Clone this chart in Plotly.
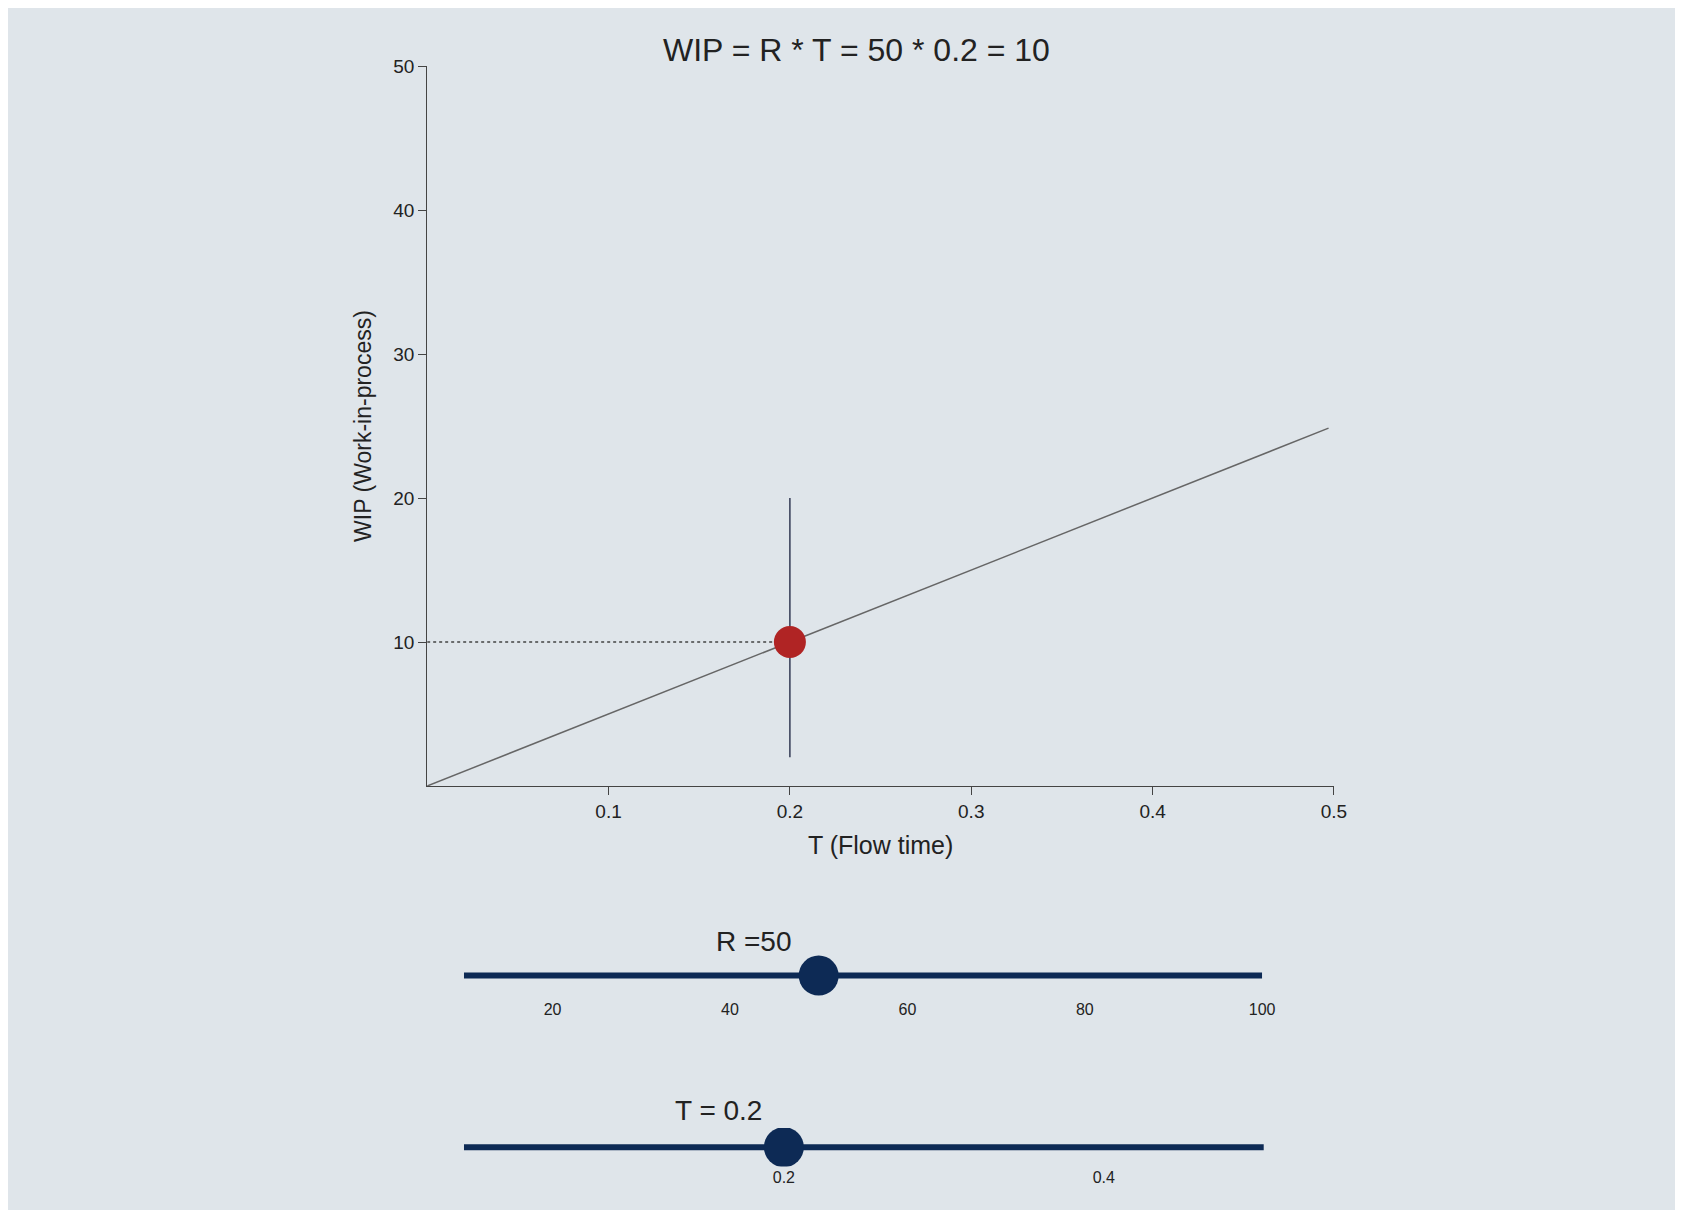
import plotly.graph_objects as go

R = 50
T = 0.2
WIP = R * T
line_T = [0, 0.497]
x_ticks = [0.1, 0.2, 0.3, 0.4, 0.5]
y_ticks = [10, 20, 30, 40, 50]
r_range = [10, 100]
r_ticks = [20, 40, 60, 80, 100]
t_range = [0, 0.5]
t_ticks = [0.2, 0.4]

bg = "#dfe5ea"
navy = "#0d2a55"
fig = go.Figure()
fig.add_trace(go.Scatter(x=line_T, y=[R * t for t in line_T], mode="lines",
                         line=dict(color="#666", width=1.5), xaxis="x", yaxis="y"))
fig.add_trace(go.Scatter(x=[T, T], y=[2, 20], mode="lines",
                         line=dict(color="#333a55", width=1.5), xaxis="x", yaxis="y"))
fig.add_trace(go.Scatter(x=[0, T], y=[WIP, WIP], mode="lines",
                         line=dict(color="#444", width=1.5, dash="dot"), xaxis="x", yaxis="y"))
fig.add_trace(go.Scatter(x=[T], y=[WIP], mode="markers",
                         marker=dict(color="#b02424", size=32), xaxis="x", yaxis="y"))
fig.add_trace(go.Scatter(x=r_range, y=[0, 0], mode="lines", line=dict(color=navy, width=6),
                         xaxis="x2", yaxis="y2"))
fig.add_trace(go.Scatter(x=[R], y=[0], mode="markers", marker=dict(color=navy, size=40),
                         xaxis="x2", yaxis="y2"))
fig.add_trace(go.Scatter(x=t_range, y=[0, 0], mode="lines", line=dict(color=navy, width=6),
                         xaxis="x3", yaxis="y3"))
fig.add_trace(go.Scatter(x=[T], y=[0], mode="markers", marker=dict(color=navy, size=40),
                         xaxis="x3", yaxis="y3"))

font = dict(family="Liberation Sans, Arial", color="#222")
fig.update_layout(
    width=1683, height=1210, showlegend=False, paper_bgcolor=bg, plot_bgcolor=bg,
    margin=dict(l=0, r=0, t=0, b=0), font=font,
    xaxis=dict(domain=[0.251, 0.794], range=[0, 0.5], tickvals=x_ticks,
               ticks="outside", ticklen=8, showline=True, linecolor="#444", showgrid=False,
               zeroline=False, tickfont=dict(size=19), anchor="y",
               title=dict(text="T (Flow time)", font=dict(size=25))),
    yaxis=dict(domain=[0.360, 0.960], range=[0, 50], tickvals=y_ticks,
               ticks="outside", ticklen=8, showline=True, linecolor="#444", showgrid=False,
               zeroline=False, tickfont=dict(size=19), anchor="x",
               title=dict(text="WIP (Work-in-process)", font=dict(size=23))),
    xaxis2=dict(domain=[0.273, 0.751], range=r_range, tickvals=r_ticks, showgrid=False,
                zeroline=False, showline=False, anchor="y2", tickfont=dict(size=16)),
    yaxis2=dict(domain=[0.183, 0.221], range=[-1, 1], visible=False),
    xaxis3=dict(domain=[0.273, 0.752], range=t_range, tickvals=t_ticks, showgrid=False,
                zeroline=False, showline=False, anchor="y3", tickfont=dict(size=16)),
    yaxis3=dict(domain=[0.043, 0.075], range=[-1, 1], visible=False),
    annotations=[
        dict(text=f"WIP = R * T = {R} * {T} = {WIP:g}", x=855 / 1683, y=(1210 - 12) / 1210,
             xref="paper", yref="paper", showarrow=False, font=dict(size=32)),
        dict(text=f"R ={R}", x=752 / 1683, y=261 / 1210, xref="paper", yref="paper",
             showarrow=False, font=dict(size=28)),
        dict(text=f"T = {T}", x=716 / 1683, y=91 / 1210, xref="paper", yref="paper",
             showarrow=False, font=dict(size=28)),
    ],
)
fig.write_html("out.html")
